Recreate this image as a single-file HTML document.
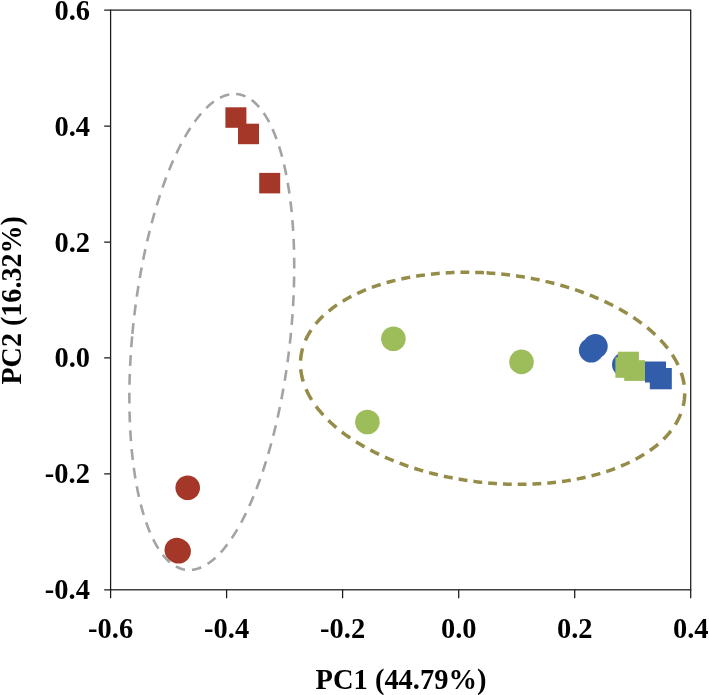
<!DOCTYPE html>
<html>
<head>
<meta charset="utf-8">
<title>PCA plot</title>
<style>
html,body{margin:0;padding:0;background:#fff;}
body{width:709px;height:695px;overflow:hidden;}
svg{display:block;}
text{font-family:"Liberation Serif","Times New Roman",serif;font-weight:bold;font-size:28.5px;fill:#000;}
</style>
</head>
<body>
<svg width="709" height="695" viewBox="0 0 709 695">
<rect x="0" y="0" width="709" height="695" fill="#fff"/>
<!-- ellipses -->
<path d="M132.36 333.99 L132.62 331.28 L132.88 328.58 L133.16 325.88 L133.44 323.17 M134.34 315.29 L134.66 312.59 L134.99 309.90 L135.34 307.21 L135.69 304.52 M136.79 296.67 L137.19 293.98 L137.59 291.30 L138.01 288.62 L138.43 285.94 M139.73 278.14 L140.20 275.45 L140.68 272.79 L141.16 270.12 L141.66 267.46 M143.17 259.71 L143.71 257.04 L144.27 254.39 L144.83 251.74 L145.40 249.11 M147.13 241.41 L147.76 238.76 L148.39 236.13 L149.03 233.50 L149.68 230.90 M151.65 223.27 L152.35 220.64 L153.07 218.03 L153.80 215.44 L154.53 212.87 M156.76 205.32 L157.56 202.73 L158.37 200.15 L159.19 197.59 L160.01 195.06 M162.53 187.63 L163.43 185.07 L164.35 182.53 L165.27 180.02 L166.20 177.54 M169.05 170.26 L170.08 167.75 L171.11 165.27 L172.15 162.83 L173.21 160.42 M176.44 153.34 L177.61 150.89 L178.79 148.50 L179.98 146.14 L181.18 143.83 M184.89 137.05 L186.25 134.71 L187.61 132.43 L188.98 130.21 L190.36 128.05 M194.68 121.74 L196.28 119.57 L197.88 117.49 L199.49 115.49 L201.11 113.58 M206.23 108.11 L208.15 106.28 L210.08 104.58 L212.01 103.00 L213.93 101.55 M220.09 97.75 L222.39 96.66 L224.67 95.76 L226.95 95.04 L229.22 94.52 M236.16 94.06 L238.52 94.33 L240.86 94.81 L243.17 95.50 L245.46 96.41 M251.67 100.09 L253.56 101.59 L255.44 103.25 L257.28 105.08 L259.08 107.06 M263.71 113.07 L265.10 115.17 L266.47 117.38 L267.81 119.70 L269.13 122.11 M272.52 129.09 L273.56 131.46 L274.57 133.91 L275.56 136.42 L276.53 139.01 M279.07 146.43 L279.86 148.94 L280.62 151.50 L281.37 154.11 L282.10 156.77 M284.02 164.42 L284.61 167.01 L285.19 169.64 L285.75 172.30 L286.30 175.00 M287.73 182.78 L288.18 185.42 L288.61 188.08 L289.03 190.78 L289.42 193.50 M290.47 201.35 L290.79 204.02 L291.10 206.71 L291.39 209.42 L291.67 212.15 M292.39 220.05 L292.60 222.74 L292.80 225.45 L292.99 228.16 L293.16 230.90 M293.59 238.83 L293.71 241.52 L293.81 244.24 L293.91 246.97 L293.99 249.70 M294.16 257.64 L294.19 260.34 L294.21 263.06 L294.22 265.79 L294.22 268.52 M294.15 276.46 L294.10 279.17 L294.04 281.89 L293.97 284.61 L293.89 287.34 M293.59 295.27 L293.47 297.98 L293.34 300.70 L293.20 303.42 L293.04 306.14 M292.53 314.06 L292.34 316.76 L292.13 319.47 L291.92 322.18 L291.69 324.89 M290.97 332.79 L290.71 335.50 L290.43 338.20 L290.15 340.90 L289.85 343.61 M288.93 351.48 L288.60 354.17 L288.25 356.87 L287.89 359.56 L287.53 362.25 M286.40 370.09 L286.00 372.78 L285.58 375.46 L285.16 378.14 L284.72 380.81 M283.39 388.61 L282.91 391.29 L282.42 393.96 L281.93 396.61 L281.42 399.27 M279.87 407.02 L279.32 409.68 L278.76 412.34 L278.18 414.98 L277.60 417.60 M275.83 425.30 L275.20 427.94 L274.55 430.58 L273.90 433.20 L273.24 435.79 M271.23 443.41 L270.51 446.03 L269.78 448.64 L269.05 451.22 L268.30 453.79 M266.03 461.32 L265.21 463.92 L264.39 466.49 L263.56 469.04 L262.72 471.56 M260.15 478.97 L259.23 481.53 L258.30 484.06 L257.36 486.56 L256.41 489.03 M253.51 496.28 L252.46 498.79 L251.41 501.26 L250.35 503.69 L249.28 506.09 M245.98 513.13 L244.78 515.56 L243.57 517.94 L242.36 520.28 L241.14 522.57 M237.35 529.30 L235.96 531.62 L234.57 533.88 L233.16 536.07 L231.75 538.20 M227.33 544.42 L225.69 546.54 L224.04 548.59 L222.39 550.54 L220.74 552.40 M215.47 557.70 L213.49 559.45 L211.51 561.07 L209.53 562.55 L207.55 563.90 M201.23 567.33 L198.89 568.25 L196.56 568.98 L194.25 569.51 L191.95 569.85 M185.00 569.66 L182.68 569.18 L180.39 568.48 L178.12 567.58 L175.88 566.46 M169.90 562.30 L168.09 560.68 L166.30 558.90 L164.54 556.97 L162.82 554.90 M158.41 548.68 L157.07 546.52 L155.76 544.26 L154.48 541.91 L153.23 539.46 M149.98 532.40 L148.99 530.00 L148.02 527.53 L147.07 524.99 L146.14 522.39 M143.70 514.93 L142.95 512.40 L142.21 509.83 L141.50 507.21 L140.80 504.54 M138.96 496.86 L138.39 494.27 L137.83 491.63 L137.30 488.96 L136.78 486.26 M135.40 478.47 L134.98 475.83 L134.56 473.16 L134.17 470.46 L133.79 467.73 M132.80 459.87 L132.49 457.20 L132.20 454.51 L131.92 451.79 L131.66 449.06 M130.99 441.16 L130.79 438.47 L130.61 435.76 L130.43 433.04 L130.27 430.31 M129.89 422.38 L129.78 419.68 L129.69 416.96 L129.61 414.24 L129.54 411.51 M129.41 403.57 L129.39 400.86 L129.38 398.14 L129.38 395.42 L129.40 392.69 M129.50 384.74 L129.56 382.03 L129.63 379.32 L129.71 376.60 L129.80 373.87 M130.13 365.93 L130.26 363.22 L130.41 360.51 L130.56 357.80 L130.73 355.08 M131.27 347.16 L131.47 344.45 L131.69 341.75 L131.92 339.04 L132.15 336.32" fill="none" stroke="#A3A3A3" stroke-width="2.6"/>
<path d="M486.50 272.86 L488.69 273.00 L490.90 273.15 L493.10 273.31 L495.30 273.49 M501.26 274.04 L503.46 274.27 L505.67 274.51 L507.86 274.76 L510.06 275.03 M516.03 275.83 L518.23 276.16 L520.44 276.49 L522.63 276.84 L524.83 277.20 M530.80 278.27 L533.01 278.69 L535.21 279.12 L537.41 279.57 L539.60 280.03 M545.57 281.36 L547.78 281.88 L549.98 282.42 L552.18 282.97 L554.37 283.53 M560.33 285.15 L562.55 285.78 L564.75 286.43 L566.94 287.09 L569.12 287.76 M575.07 289.70 L577.29 290.45 L579.49 291.22 L581.68 292.00 L583.85 292.79 M589.79 295.07 L592.01 295.96 L594.20 296.86 L596.37 297.78 L598.53 298.71 M604.44 301.38 L606.65 302.43 L608.83 303.48 L610.98 304.56 L613.12 305.65 M618.97 308.77 L621.16 310.00 L623.32 311.24 L625.45 312.50 L627.54 313.77 M633.30 317.45 L635.45 318.90 L637.56 320.37 L639.63 321.85 L641.67 323.35 M647.24 327.70 L649.32 329.44 L651.35 331.19 L653.33 332.95 L655.25 334.73 M660.47 339.96 L662.41 342.05 L664.27 344.17 L666.05 346.29 L667.76 348.44 M672.30 354.78 L673.92 357.33 L675.43 359.90 L676.83 362.49 L678.12 365.08 M681.24 372.72 L682.20 375.74 L683.01 378.78 L683.66 381.81 L684.16 384.83 M684.71 393.38 L684.60 396.53 L684.31 399.66 L683.85 402.78 L683.21 405.87 M680.72 413.87 L679.59 416.58 L678.31 419.27 L676.90 421.93 L675.35 424.55 M670.87 430.96 L669.16 433.08 L667.36 435.17 L665.47 437.23 L663.48 439.26 M658.11 444.17 L656.15 445.80 L654.12 447.41 L652.03 448.99 L649.88 450.54 M644.15 454.34 L642.07 455.61 L639.95 456.86 L637.78 458.09 L635.57 459.29 M629.70 462.27 L627.57 463.28 L625.41 464.26 L623.21 465.22 L620.98 466.17 M615.04 468.51 L612.89 469.31 L610.71 470.09 L608.50 470.85 L606.27 471.59 M600.31 473.43 L598.14 474.06 L595.96 474.67 L593.74 475.26 L591.52 475.83 M585.55 477.26 L583.37 477.75 L581.18 478.21 L578.97 478.66 L576.75 479.10 M570.78 480.16 L568.60 480.52 L566.41 480.86 L564.20 481.19 L561.98 481.50 M556.01 482.25 L553.83 482.49 L551.63 482.72 L549.43 482.93 L547.21 483.13 M541.25 483.59 L539.06 483.73 L536.86 483.86 L534.66 483.97 L532.45 484.06 M526.49 484.25 L524.29 484.29 L522.10 484.32 L519.90 484.33 L517.69 484.33 M511.73 484.25 L509.53 484.20 L507.33 484.13 L505.13 484.05 L502.94 483.96 M496.96 483.63 L494.77 483.48 L492.57 483.32 L490.37 483.15 L488.17 482.96 M482.20 482.38 L480.00 482.15 L477.80 481.89 L475.60 481.63 L473.40 481.35 M467.43 480.51 L465.23 480.18 L463.03 479.83 L460.83 479.47 L458.64 479.10 M452.67 478.01 L450.46 477.57 L448.25 477.13 L446.06 476.67 L443.87 476.20 M437.90 474.83 L435.68 474.30 L433.48 473.75 L431.29 473.19 L429.10 472.61 M423.14 470.96 L420.93 470.31 L418.72 469.65 L416.53 468.98 L414.35 468.29 M408.40 466.32 L406.18 465.55 L403.98 464.77 L401.79 463.97 L399.63 463.16 M393.69 460.84 L391.48 459.93 L389.28 459.01 L387.10 458.08 L384.95 457.13 M379.05 454.41 L376.85 453.35 L374.67 452.27 L372.51 451.17 L370.38 450.07 M364.53 446.88 L362.35 445.63 L360.19 444.36 L358.07 443.08 L355.98 441.78 M350.24 438.03 L348.09 436.55 L345.99 435.06 L343.92 433.55 L341.90 432.02 M336.36 427.57 L334.29 425.80 L332.27 424.01 L330.32 422.21 L328.41 420.39 M323.25 415.05 L321.34 412.90 L319.50 410.74 L317.75 408.56 L316.08 406.37 M311.66 399.89 L310.09 397.27 L308.64 394.64 L307.31 392.00 L306.09 389.35 M303.21 381.56 L302.35 378.50 L301.66 375.43 L301.12 372.36 L300.75 369.30 M300.56 360.73 L300.81 357.60 L301.24 354.50 L301.83 351.41 L302.60 348.35 M305.39 340.51 L306.62 337.87 L307.98 335.25 L309.47 332.66 L311.10 330.11 M315.72 323.89 L317.47 321.84 L319.31 319.82 L321.24 317.82 L323.26 315.86 M328.69 311.09 L330.67 309.51 L332.71 307.95 L334.81 306.42 L336.98 304.92 M342.73 301.23 L344.81 299.99 L346.94 298.77 L349.12 297.58 L351.33 296.41 M357.22 293.52 L359.35 292.54 L361.52 291.58 L363.72 290.64 L365.94 289.73 M371.88 287.45 L374.04 286.67 L376.22 285.91 L378.43 285.18 L380.66 284.46 M386.62 282.66 L388.79 282.06 L390.98 281.47 L393.19 280.89 L395.42 280.33 M401.39 278.95 L403.56 278.48 L405.76 278.03 L407.96 277.60 L410.18 277.18 M416.16 276.15 L418.34 275.81 L420.54 275.48 L422.74 275.17 L424.96 274.87 M430.92 274.16 L433.11 273.93 L435.31 273.71 L437.51 273.51 L439.72 273.32 M445.69 272.90 L447.87 272.77 L450.07 272.66 L452.28 272.56 L454.48 272.47 M460.45 272.32 L462.64 272.29 L464.84 272.27 L467.04 272.27 L469.24 272.28 M475.20 272.39 L477.40 272.45 L479.60 272.53 L481.80 272.62 L484.00 272.73" fill="none" stroke="#948C48" stroke-width="3.5"/>
<!-- red squares -->
<g fill="#A43728">
<rect x="225.4" y="107.3" width="21" height="20.5"/>
<rect x="238" y="123.7" width="21" height="20.5"/>
<rect x="259.2" y="172.9" width="21" height="20.5"/>
<circle cx="187.7" cy="487.8" r="12.3"/>
<circle cx="176.8" cy="550" r="12.3"/>
<circle cx="178.6" cy="551.3" r="12.3"/>
</g>
<!-- blue -->
<g fill="#325DAA">
<circle cx="595.4" cy="346.2" r="12.3"/>
<circle cx="591.2" cy="350.2" r="12.3"/>
<circle cx="624.2" cy="364.6" r="12.2"/>
<rect x="645" y="361.5" width="21" height="21"/>
<rect x="649.8" y="368" width="22" height="21.3"/>
</g>
<!-- green -->
<g fill="#9DBD5B">
<circle cx="393.4" cy="338.8" r="12.3"/>
<circle cx="367.4" cy="422" r="12.3"/>
<circle cx="521.5" cy="361.9" r="12.3"/>
<rect x="617.9" y="351.7" width="21" height="20.8"/>
<rect x="615.4" y="357.2" width="21" height="20.6"/>
<rect x="624.2" y="360.2" width="20.8" height="20.7"/>
</g>
<!-- axes -->
<g stroke="#1a1a1a" stroke-width="1.25" fill="none">
<rect x="110.6" y="10.1" width="580.1" height="579.7"/>
<path d="M104.2 10.1H110.6M104.2 126H110.6M104.2 242H110.6M104.2 357.9H110.6M104.2 473.9H110.6M104.2 589.8H110.6"/>
<path d="M110.6 589.8V598.3M226.6 589.8V598.3M342.6 589.8V598.3M458.7 589.8V598.3M574.7 589.8V598.3M690.7 589.8V598.3"/>
</g>
<!-- y labels -->
<g text-anchor="end">
<text transform="translate(90.0 19.6) scale(1 1.035)">0.6</text>
<text transform="translate(90.0 135.5) scale(1 1.035)">0.4</text>
<text transform="translate(90.0 251.5) scale(1 1.035)">0.2</text>
<text transform="translate(90.0 367.4) scale(1 1.035)">0.0</text>
<text transform="translate(90.0 483.4) scale(1 1.035)">-0.2</text>
<text transform="translate(90.0 599.3) scale(1 1.035)">-0.4</text>
</g>
<g text-anchor="middle">
<text transform="translate(110.6 638.1) scale(1 1.035)">-0.6</text>
<text transform="translate(226.6 638.1) scale(1 1.035)">-0.4</text>
<text transform="translate(342.6 638.1) scale(1 1.035)">-0.2</text>
<text transform="translate(458.7 638.1) scale(1 1.035)">0.0</text>
<text transform="translate(574.7 638.1) scale(1 1.035)">0.2</text>
<text transform="translate(690.7 638.1) scale(1 1.035)">0.4</text>
<text transform="translate(401 688.8) scale(1 1.02)">PC1 (44.79%)</text>
<text transform="translate(21.2 300.3) rotate(-90) scale(1 1.03)" style="font-size:28.1px">PC2 (16.32%)</text>
</g>
</svg>
</body>
</html>
